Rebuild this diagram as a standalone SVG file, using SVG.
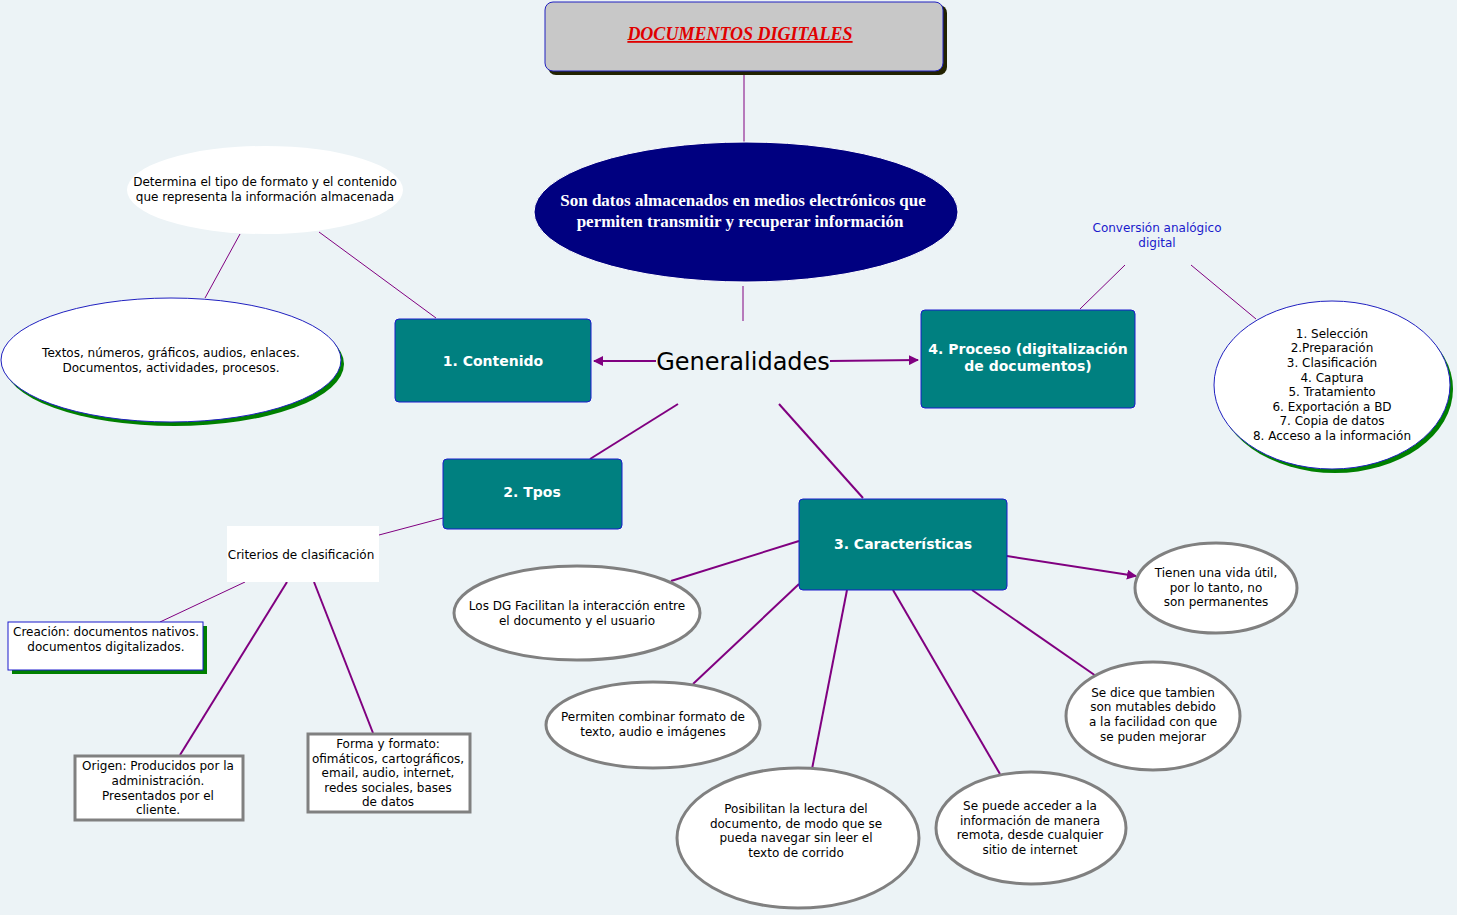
<svg xmlns="http://www.w3.org/2000/svg" width="1457" height="915" viewBox="0 0 1457 915">
<defs>
<style>
text{font-family:"DejaVu Sans",Verdana,sans-serif;font-size:12px;fill:#000;text-anchor:middle}
.box{fill:#008080;stroke:#1a1acc;stroke-width:1}
.bt{fill:#fff;font-weight:bold;font-size:14px}
.g{fill:#fff;stroke:#808080;stroke-width:3}
.b{fill:#fff;stroke:#2020c0;stroke-width:1}
.c{stroke:#800080;fill:none;stroke-width:2}
.c1{stroke:#800080;fill:none;stroke-width:1}
</style>
<marker id="ar" markerWidth="10" markerHeight="10" refX="9" refY="5" orient="auto" markerUnits="userSpaceOnUse"><path d="M0,0L10,5L0,10z" fill="#800080"/></marker>
</defs>
<rect width="1457" height="915" fill="#ecf3f6"/>
<g id="connectors">
<line class="c1" x1="744" y1="74" x2="744" y2="142"/>
<line class="c1" x1="743" y1="286" x2="743" y2="321"/>
<line class="c" x1="656" y1="361" x2="594" y2="361" marker-end="url(#ar)"/>
<line class="c" x1="830" y1="361" x2="918" y2="360" marker-end="url(#ar)"/>
<line class="c1" x1="240" y1="234" x2="205" y2="298"/>
<line class="c1" x1="319" y1="232" x2="436" y2="318"/>
<line class="c1" x1="1125" y1="265" x2="1080" y2="309"/>
<line class="c1" x1="1191" y1="265" x2="1256" y2="319"/>
<line class="c" x1="678" y1="404" x2="590" y2="459"/>
<line class="c" x1="779" y1="404" x2="863" y2="498"/>
<line class="c1" x1="443" y1="518" x2="379" y2="535"/>
<line class="c1" x1="245" y1="582" x2="160" y2="622"/>
<line class="c" x1="287" y1="582" x2="180" y2="755"/>
<line class="c" x1="314" y1="582" x2="373" y2="733"/>
<line class="c" x1="799" y1="541" x2="671" y2="581"/>
<line class="c" x1="799" y1="584" x2="693" y2="684"/>
<line class="c" x1="847" y1="590" x2="812" y2="769"/>
<line class="c" x1="893" y1="590" x2="1000" y2="774"/>
<line class="c" x1="972" y1="590" x2="1096" y2="676"/>
<line class="c" x1="1007" y1="556" x2="1136" y2="576" marker-end="url(#ar)"/>
</g>
<g id="title"><rect x="548" y="5" width="399" height="70" rx="8" fill="#222200"/><rect x="545" y="2" width="398" height="69" rx="8" fill="#c8c8c8" stroke="#2020c0"/><text x="740" y="40" style="font-family:'Liberation Serif',serif;font-size:18px;font-weight:bold;font-style:italic;fill:#e00000;text-decoration:underline">DOCUMENTOS DIGITALES</text></g>
<g id="def"><ellipse cx="746" cy="212" rx="212" ry="70" fill="#000080" stroke="#fff"/><text x="743" y="206" style="font-family:'Liberation Serif',serif;font-size:17px;font-weight:bold;fill:#fff">Son datos almacenados en medios electrónicos que</text><text x="740" y="227" style="font-family:'Liberation Serif',serif;font-size:17px;font-weight:bold;fill:#fff">permiten transmitir y recuperar información</text></g>
<g id="gen"><text x="743" y="370" style="font-size:24px">Generalidades</text></g>
<g id="n1"><rect class="box" x="395" y="319" width="196" height="83" rx="4"/><text class="bt" x="493" y="366">1. Contenido</text></g>
<g id="n4"><rect class="box" x="921" y="310" width="214" height="98" rx="4"/><text class="bt" x="1028" y="354">4. Proceso (digitalización</text><text class="bt" x="1028" y="371">de documentos)</text></g>
<g id="n2"><rect class="box" x="443" y="459" width="179" height="70" rx="4"/><text class="bt" x="532" y="497">2. Tpos</text></g>
<g id="n3"><rect class="box" x="799" y="499" width="208" height="91" rx="4"/><text class="bt" x="903" y="549">3. Características</text></g>
<g id="e1"><ellipse cx="265" cy="190" rx="138" ry="44" fill="#fff"/><text x="265" y="186">Determina el tipo de formato y el contenido</text><text x="265" y="201">que representa la información almacenada</text></g>
<g id="e2"><ellipse cx="174" cy="364" rx="170" ry="62" fill="#008000"/><ellipse cx="171" cy="360" rx="170" ry="62" class="b"/><text x="171" y="357">Textos, números, gráficos, audios, enlaces.</text><text x="171" y="372">Documentos, actividades, procesos.</text></g>
<g id="conv"><text x="1157" y="232" style="fill:#1a1acc">Conversión analógico</text><text x="1157" y="247" style="fill:#1a1acc">digital</text></g>
<g id="steps"><ellipse cx="1335" cy="389" rx="118" ry="84" fill="#008000"/><ellipse cx="1332" cy="385" rx="118" ry="84" class="b"/>
<text x="1332" y="338">1. Selección</text><text x="1332" y="352">2.Preparación</text><text x="1332" y="367">3. Clasificación</text><text x="1332" y="382">4. Captura</text><text x="1332" y="396">5. Tratamiento</text><text x="1332" y="411">6. Exportación a BD</text><text x="1332" y="425">7. Copia de datos</text><text x="1332" y="440">8. Acceso a la información</text></g>
<g id="crit"><rect x="227" y="526" width="152" height="56" fill="#fff"/><text x="301" y="559">Criterios de clasificación</text></g>
<g id="creacion"><rect x="12" y="626" width="195" height="48" fill="#008000"/><rect x="8" y="622" width="195" height="48" fill="#fff" stroke="#1a1acc"/><text x="106" y="636">Creación: documentos nativos.</text><text x="106" y="651">documentos digitalizados.</text></g>
<g id="origen"><rect x="75" y="756" width="168" height="64" fill="#fff" stroke="#808080" stroke-width="3"/><text x="158" y="770">Origen: Producidos por la</text><text x="158" y="785">administración.</text><text x="158" y="800">Presentados por el</text><text x="158" y="814">cliente.</text></g>
<g id="forma"><rect x="308" y="734" width="162" height="78" fill="#fff" stroke="#808080" stroke-width="3"/><text x="388" y="748">Forma y formato:</text><text x="388" y="763">ofimáticos, cartográficos,</text><text x="388" y="777">email, audio, internet,</text><text x="388" y="792">redes sociales, bases</text><text x="388" y="806">de datos</text></g>
<g id="c1"><ellipse cx="577" cy="613" rx="123" ry="47" class="g"/><text x="577" y="610">Los DG Facilitan la interacción entre</text><text x="577" y="625">el documento y el usuario</text></g>
<g id="c2"><ellipse cx="653" cy="725" rx="107" ry="43" class="g"/><text x="653" y="721">Permiten combinar formato de</text><text x="653" y="736">texto, audio e imágenes</text></g>
<g id="c3"><ellipse cx="798" cy="838" rx="121" ry="70" class="g"/><text x="796" y="813">Posibilitan la lectura del</text><text x="796" y="828">documento, de modo que se</text><text x="796" y="842">pueda navegar sin leer el</text><text x="796" y="857">texto de corrido</text></g>
<g id="c4"><ellipse cx="1031" cy="828" rx="95" ry="56" class="g"/><text x="1030" y="810">Se puede acceder a la</text><text x="1030" y="825">información de manera</text><text x="1030" y="839">remota, desde cualquier</text><text x="1030" y="854">sitio de internet</text></g>
<g id="c5"><ellipse cx="1153" cy="716" rx="87" ry="54" class="g"/><text x="1153" y="697">Se dice que tambien</text><text x="1153" y="711">son mutables debido</text><text x="1153" y="726">a la facilidad con que</text><text x="1153" y="741">se puden mejorar</text></g>
<g id="c6"><ellipse cx="1216" cy="588" rx="81" ry="45" class="g"/><text x="1216" y="577">Tienen una vida útil,</text><text x="1216" y="592">por lo tanto, no</text><text x="1216" y="606">son permanentes</text></g>
</svg>
